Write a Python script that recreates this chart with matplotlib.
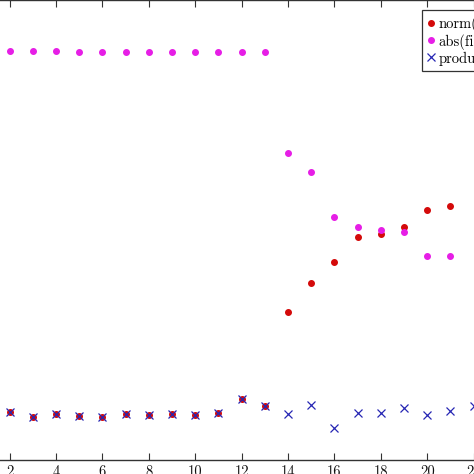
import matplotlib
matplotlib.use("Agg")
import matplotlib.pyplot as plt

plt.rcParams['font.family'] = ['cmr10', 'DejaVu Serif']
plt.rcParams['axes.formatter.use_mathtext'] = True

# data
x_top = [2, 3, 4, 5, 6, 7, 8, 9, 10, 11, 12, 13, 14, 15, 16, 17, 18, 19, 20, 21]
norm_vals = [10.5, 9.4, 10.1, 9.6, 9.4, 10.1, 9.8, 10.1, 9.7, 10.2, 13.3, 11.8,
             32.2, 38.4, 43.1, 48.5, 49.1, 50.7, 54.3, 55.2]
abs_vals = [89.0, 89.0, 88.9, 88.8, 88.8, 88.8, 88.8, 88.8, 88.8, 88.8, 88.8, 88.8,
            66.7, 62.5, 52.8, 50.6, 50.0, 49.5, 44.4, 44.3]
x_prod = [2, 3, 4, 5, 6, 7, 8, 9, 10, 11, 12, 13, 14, 15, 16, 17, 18, 19, 20, 21, 22]
prod_vals = [10.5, 9.4, 10.1, 9.6, 9.4, 10.1, 9.8, 10.1, 9.7, 10.2, 13.3, 11.8,
             10.1, 12.0, 7.0, 10.3, 10.2, 11.4, 9.8, 10.7, 11.7]
labels = ['norm(x)', 'abs(filter)', 'product']
xticks = list(range(0, 25, 2))

W = 474
fig = plt.figure(figsize=(4.74, 4.74), dpi=100)
# axes extends beyond the visible figure (cropped view)
px_unit = 23.33
left_px = -40
right_px = 520
ax = fig.add_axes([left_px / W, 14 / W, (right_px - left_px) / W, 460 / W])
x_at_left = 2 + (left_px - 10) / px_unit
x_at_right = 2 + (right_px - 10) / px_unit
ax.set_xlim(x_at_left, x_at_right)
ax.set_ylim(0, 100)

red = '#d40a0a'
mag = '#e61ee6'
blue = '#2626b4'

ax.plot(x_top, norm_vals, 'o', color=red, markersize=4.0, linestyle='none', label=labels[0])
ax.plot(x_top, abs_vals, 'o', color=mag, markersize=4.0, linestyle='none', label=labels[1])
ax.plot(x_prod, prod_vals, 'x', color=blue, markersize=6, markeredgewidth=0.9,
        linestyle='none', label=labels[2])

ax.set_xticks(xticks)
ax.set_xticklabels([str(t) for t in xticks])
ax.set_yticks([])
ax.tick_params(axis='x', direction='in', length=5, width=0.8, top=True, bottom=True,
               labelsize=10.5, pad=4, colors='#333333', labelcolor='#111111')
for sp in ax.spines.values():
    sp.set_color('#333333')
    sp.set_linewidth(1.0)

leg = fig.legend(loc='upper left', bbox_to_anchor=(422 / W, 1 - 10 / W),
                 bbox_transform=fig.transFigure, borderaxespad=0, fancybox=False,
                 edgecolor='#333333', framealpha=1, fontsize=10.5, handlelength=0.45,
                 handletextpad=0.3, borderpad=0.4, labelspacing=0.12, numpoints=1)
leg.get_frame().set_linewidth(0.9)

fig.savefig('out.png', dpi=100)
